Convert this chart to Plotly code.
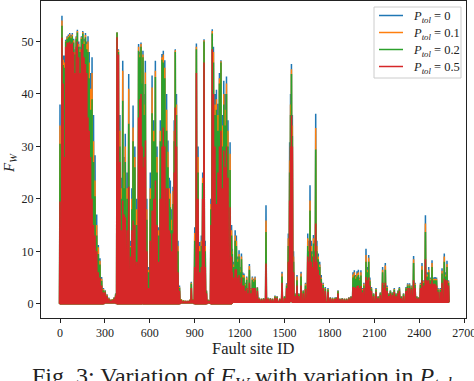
import plotly.graph_objects as go

# ---------------- data ----------------
# Fault-site IDs at which the F_W spikes were read, region by region
SITES = (
    [0, 13, 21, 29, 38, 47, 56, 65, 74, 82, 91, 100, 108, 116, 125, 134, 143, 152, 161, 170,
     179, 187, 195, 204, 214, 224, 234, 245, 256, 267, 278, 290]
    + [302, 314, 326, 338, 350, 362, 372]
    + [381, 390, 400, 410, 419, 428, 436, 448, 459, 472, 480, 488, 500, 512, 525, 533, 541, 548,
       554, 562, 570, 580, 592, 603, 615, 626, 637, 648, 659, 670, 681, 690, 700, 712, 721, 730,
       737, 746, 755, 763, 770, 778, 788, 798]
    + [810, 825, 840, 855, 868, 877, 890]
    + [900, 911, 922, 933, 944, 953, 962, 970, 978]
    + [988, 1000]
    + [1008, 1017, 1025, 1035, 1045, 1055, 1065, 1075, 1085, 1094, 1104, 1112, 1122, 1136, 1146]
    + [1151, 1160, 1170, 1178, 1187, 1196, 1204, 1212, 1220, 1229, 1238, 1247, 1256, 1265, 1275,
       1285, 1294, 1303, 1312, 1318]
    + [1330, 1345, 1360, 1376, 1390, 1405, 1420, 1436, 1450, 1468, 1483, 1500, 1514, 1525, 1534,
       1540, 1546, 1552, 1560, 1570, 1583, 1595, 1610, 1625, 1640]
    + [1655, 1662, 1670, 1678, 1686, 1693, 1700, 1708, 1716, 1725, 1735, 1745, 1758, 1772, 1790,
       1805, 1820, 1835, 1845, 1857, 1870, 1885, 1900, 1915, 1930, 1944]
    + [1957, 1966, 1975, 1984, 1993, 2002, 2010, 2020, 2030, 2044, 2053, 2062, 2070, 2080, 2095,
       2111, 2125, 2140, 2155, 2164, 2173, 2185, 2196, 2207, 2220, 2233, 2245, 2258, 2267, 2280,
       2295, 2311, 2322, 2335, 2348, 2362, 2372, 2383, 2395, 2408, 2418, 2430, 2441, 2452, 2463,
       2474, 2485, 2496, 2505, 2515, 2525, 2540, 2552, 2567, 2576, 2585, 2595]
)

# Peak F_W at each site, P_tol = 0
FW_P0 = (
    [38, 54.9, 47.3, 47.3, 50.3, 51, 51.3, 51.6, 51.2, 51.6, 50.5, 48.5, 51, 52.2, 50, 49, 51, 52,
     50.5, 51.6, 50, 51, 48, 44, 47, 36, 28.3, 17, 11.2, 8.7, 5.1, 3]
    + [2.6, 1.8, 1.2, 0.8, 0.9, 1.3, 2]
    + [51.7, 48.5, 36, 24, 46.3, 28, 32.4, 25, 43.8, 12, 22, 37.8, 30, 20, 49.5, 48, 49.8, 45,
       48.2, 40, 46.3, 20, 7, 25, 43.5, 35, 46.3, 30, 14.6, 35, 47.6, 48.2, 46.4, 40, 31.1, 24,
       23.5, 18, 22.3, 35, 48.5, 40, 12, 3.5]
    + [0.9, 0.7, 0.6, 0.6, 0.8, 4.2, 0.9]
    + [14.6, 49.6, 30, 11.8, 13, 25, 50.4, 12, 2.6]
    + [0.8, 0.7]
    + [20, 52.3, 49, 40, 40.8, 38.1, 44, 46.4, 36, 42.5, 40, 43.3, 35, 30.8, 15]
    + [10.5, 8, 14, 13, 9, 10.2, 7, 9.6, 6, 5.8, 4, 5.2, 3, 7.6, 3, 5.2, 4.8, 5.2, 2, 3.2]
    + [1.2, 1.0, 1.1, 18.8, 1.2, 1.1, 1.0, 1.6, 1.5, 1.0, 6.1, 1.5, 3.9, 13.4, 30.8, 40, 45.7,
       36, 10, 2, 5.5, 2, 6.1, 2.6, 4]
    + [13.4, 12, 22.6, 12, 10, 13.1, 12, 36.2, 12, 9.6, 8, 5.5, 4, 3.2, 3, 1.3, 1.2, 1.2, 1.3,
       2.6, 1.0, 1.1, 1.0, 1.0, 1.3, 1.5]
    + [6, 6.4, 5.5, 6.2, 6.5, 5, 6.4, 3, 4, 10.5, 7, 9.3, 5, 3.2, 2, 3, 1.5, 2.2, 7, 4, 7.8, 3.5,
       2, 2.6, 2.2, 3, 2, 2.6, 3.2, 1.5, 2, 3.2, 3.9, 3.9, 3.5, 9.1, 4, 1.5, 1.3, 4, 7.8, 4.5,
       16.9, 6, 7, 5, 8.3, 5, 5.1, 5, 3, 3, 6.8, 9.6, 6, 8.2, 4.5]
)

# P_tol = 0.1
FW_P01 = (
    [34, 54, 46.5, 46, 50.1, 50.8, 51.1, 51.4, 51, 51.3, 50.2, 48, 50.8, 52, 49.5, 48.5, 50.8,
     51.8, 50, 51.2, 49.5, 50, 46, 41, 44, 31, 23.5, 15, 10.8, 8.2, 4.8, 2.8]
    + [2.5, 1.7, 1.1, 0.8, 0.9, 1.2, 1.9]
    + [51.7, 48.3, 33, 22, 44.4, 25, 30, 22, 41, 11, 20, 33.6, 28, 18, 49, 47.5, 49.5, 44, 47.5,
       38, 44.1, 18, 6.5, 22, 41.2, 33, 44.4, 28, 14, 33, 47, 47.5, 45, 37, 29, 22, 21, 16, 21.5,
       33, 48.3, 38, 11, 3.2]
    + [0.9, 0.7, 0.6, 0.6, 0.8, 4, 0.9]
    + [13.5, 49, 28, 11, 12, 24, 50.2, 11, 2.5]
    + [0.8, 0.7]
    + [19, 52, 48, 38, 39, 36, 43, 46.2, 34, 40, 37, 42, 33, 28.6, 14]
    + [10, 7.5, 13, 12, 8.5, 9.5, 6.5, 9, 5.5, 5.5, 3.8, 5, 2.8, 7.2, 2.8, 5, 4.6, 5, 1.9, 3.1]
    + [1.1, 1.0, 1.0, 15.9, 1.1, 1.0, 1.0, 1.5, 1.4, 1.0, 5.8, 1.4, 3.7, 12.5, 27.3, 38, 44.7,
       34, 9, 1.9, 5.2, 1.9, 5.8, 2.5, 3.8]
    + [12.5, 11, 19.7, 11, 9.5, 12.5, 11, 33.5, 11, 9, 7.5, 5, 3.8, 3, 2.8, 1.2, 1.1, 1.1, 1.2,
       2.5, 1.0, 1.0, 1.0, 1.0, 1.2, 1.4]
    + [5.6, 6, 5.2, 5.8, 6, 4.8, 6, 2.8, 3.8, 9.3, 6.5, 8.8, 4.6, 3, 1.9, 2.8, 1.4, 2.1, 6.5, 3.8,
       7.3, 3.2, 1.9, 2.5, 2.1, 2.8, 1.9, 2.5, 3, 1.4, 1.9, 3, 3.7, 3.7, 3.3, 8.5, 3.8, 1.4, 1.2,
       3.8, 7.2, 4.3, 15.3, 5.6, 6.5, 4.8, 7.8, 4.8, 4.8, 4.8, 2.8, 2.8, 6.3, 9, 5.6, 7.6, 4.3]
)

# P_tol = 0.2
FW_P02 = (
    [30.5, 53, 45.5, 45, 50, 50.5, 50.8, 51, 50.6, 51, 49.8, 47.5, 50.5, 51.7, 49, 48, 50.5,
     51.5, 49.5, 50.8, 48.5, 48, 43, 37, 39, 27, 20.5, 13, 9.5, 7.5, 4.4, 2.6]
    + [2.4, 1.6, 1.0, 0.7, 0.8, 1.1, 1.8]
    + [51.7, 48, 30, 20, 38.7, 22, 27, 20, 34.3, 10.8, 18, 31, 26, 15, 48.2, 47, 49, 42, 47, 36,
       41.9, 16, 6, 20, 36.3, 31, 43.2, 25, 13, 31, 46.5, 46, 43, 33, 26, 20, 18.4, 14, 19, 31,
       48, 36, 10, 3]
    + [0.8, 0.6, 0.5, 0.5, 0.7, 3.8, 0.8]
    + [12, 48.5, 25, 10, 11, 23, 50, 10, 2.4]
    + [0.7, 0.6]
    + [18, 51.5, 46, 36, 37, 33, 42, 46, 30, 38, 34, 40, 30, 25.5, 13]
    + [9.5, 7, 12, 11, 8, 9, 6, 8.5, 5, 5, 3.5, 4.6, 2.6, 6.5, 2.6, 4.6, 4.2, 4.6, 1.8, 3]
    + [1.0, 0.9, 1.0, 13.7, 1.0, 1.0, 0.9, 1.4, 1.3, 0.9, 5.2, 1.3, 3.5, 11, 25, 36, 43.8, 32, 8,
       1.8, 4.5, 1.8, 5.2, 2.4, 3.5]
    + [11, 10, 17.8, 10, 9, 11.5, 10, 29.4, 10, 8.5, 7, 4.8, 3.6, 2.9, 2.7, 1.1, 1.0, 1.0, 1.1,
       2.4, 0.9, 1.0, 0.9, 0.9, 1.1, 1.3]
    + [5, 5.4, 4.8, 5.2, 5.5, 4.5, 5.4, 2.6, 3.5, 8, 6, 8, 4.3, 2.9, 1.8, 2.7, 1.3, 2, 6, 3.6,
       6.5, 3, 1.8, 2.4, 2, 2.7, 1.8, 2.4, 2.9, 1.3, 1.8, 2.9, 3.5, 3.5, 3.1, 7.8, 3.6, 1.3, 1.1,
       3.6, 6.5, 4, 13.7, 5.2, 6, 4.5, 7, 4.5, 4.5, 4.5, 2.7, 2.7, 5.8, 8, 5.2, 7, 4]
)

# P_tol = 0.5
FW_P05 = (
    [19.5, 50.7, 42, 28, 49, 49.8, 49.8, 50, 49.5, 49.8, 48, 44, 49, 50, 47, 44, 48.5, 49.5, 47,
     45.7, 44, 35.5, 33, 28, 20, 15, 13, 10, 6, 5, 3.5, 2.2]
    + [2.2, 1.5, 0.9, 0.6, 0.7, 1.0, 1.6]
    + [50.8, 47.5, 27, 14, 19.7, 17, 16.5, 14, 22.3, 9, 14, 15.9, 15, 8, 35.5, 39, 40, 30, 26, 28,
       31.1, 10, 3, 12, 17.8, 20, 23.5, 15, 8, 20, 30, 33.6, 30, 22, 22, 14, 13.4, 10, 13.4, 25,
       37.4, 30, 6, 2.5]
    + [0.7, 0.5, 0.5, 0.5, 0.6, 3, 0.7]
    + [7, 44, 20, 6, 7, 20, 46, 7, 2]
    + [0.6, 0.5]
    + [15, 48.5, 40, 30, 19, 25, 30, 33, 22, 29.2, 26, 30, 24, 18.4, 9]
    + [6, 5, 6.6, 6.6, 5, 5.5, 4, 5, 3.5, 3.5, 2.5, 3, 2, 4, 2, 3, 3, 3, 1.5, 2.5]
    + [0.9, 0.8, 0.9, 7.7, 0.9, 0.9, 0.8, 1.2, 1.1, 0.8, 4, 1.1, 3, 8, 19.7, 30, 35.9, 30, 6, 1.5,
       3.5, 1.5, 3.5, 2, 2.8]
    + [9, 8, 12.1, 8, 7, 9, 8, 15.3, 8, 6.5, 5.5, 4, 3, 2.5, 2.3, 1.0, 0.9, 0.9, 1.0, 2, 0.8, 0.9,
       0.8, 0.8, 1.0, 1.2]
    + [3.2, 3.2, 3, 3.4, 3.5, 3, 3.4, 2.2, 3, 5.1, 4.5, 5, 3.5, 2.5, 1.5, 2.3, 1.1, 1.7, 4, 3, 4,
       2.5, 1.5, 2, 1.7, 2.3, 1.5, 2, 2.5, 1.1, 1.5, 2.5, 3, 3, 2.8, 4.5, 3, 1.1, 1.0, 3, 4.5,
       3.5, 8.5, 4.5, 4.5, 3.8, 4.5, 3.8, 3.8, 3.5, 2.3, 2.3, 4, 4.8, 4.5, 4.5, 3.5]
)

# Level the curves fall back to between neighbouring spikes, per site
FLOOR = (
    [0] * 32 + [0.2] * 7 + [0] * 44 + [0.2] * 7 + [0] * 9 + [0.2] * 2 + [0] * 15
    + [0.3] * 20 + [0.3] * 25 + [0.3] * 26 + [0.3] * 57
)

LEGEND_LABELS = [
    "<i>P</i><sub><i>tol</i></sub> = 0",
    "<i>P</i><sub><i>tol</i></sub> = 0.1",
    "<i>P</i><sub><i>tol</i></sub> = 0.2",
    "<i>P</i><sub><i>tol</i></sub> = 0.5",
]
COLORS = ["#1f77b4", "#ff7f0e", "#2ca02c", "#d62728"]
X_TICKS = [0, 300, 600, 900, 1200, 1500, 1800, 2100, 2400, 2700]
Y_TICKS = [0, 10, 20, 30, 40, 50]

for arr in (FW_P0, FW_P01, FW_P02, FW_P05, FLOOR):
    assert len(arr) == len(SITES), (len(arr), len(SITES))

HALF = 3  # half width of a spike, in site-ID units


def spike_path(peaks):
    xs, ys = [], []
    for s, p, f in zip(SITES, peaks, FLOOR):
        base = min(f, p)
        xs += [s - HALF, s, s + HALF]
        ys += [base, p, base]
    return xs, ys


FONT = "Liberation Serif"
INK = "#222222"
W, H = 474, 381
ML, MR, MT, MB = 41, 8, 1, 63
PW, PH = W - ML - MR, H - MT - MB


def px(x):  # figure pixel -> paper x
    return (x - ML) / PW


def py(y):  # figure pixel -> paper y
    return (H - MB - y) / PH


fig = go.Figure()
for vals, label, col in zip([FW_P0, FW_P01, FW_P02, FW_P05], LEGEND_LABELS, COLORS):
    xs, ys = spike_path(vals)
    fig.add_trace(go.Scatter(x=xs, y=ys, mode="lines", name=label, showlegend=False,
                             line=dict(color=col, width=1.5, simplify=False)))

# matplotlib-style legend box (drawn in paper coordinates)
shapes = [dict(type="rect", xref="paper", yref="paper", x0=px(374), x1=px(461),
               y0=py(78), y1=py(7), line=dict(color="#cccccc", width=1),
               fillcolor="rgba(255,255,255,0.85)", layer="above")]
annotations = []
ROW_Y = [15.5, 32.5, 49.5, 66.5]
for ry, label, col in zip(ROW_Y, LEGEND_LABELS, COLORS):
    shapes.append(dict(type="line", xref="paper", yref="paper", x0=px(379), x1=px(403),
                       y0=py(ry), y1=py(ry), line=dict(color=col, width=1.5), layer="above"))
    annotations.append(dict(text=label, xref="paper", yref="paper", x=px(411), y=py(ry + 1),
                            xanchor="left", yanchor="middle", showarrow=False,
                            font=dict(family=FONT, size=12.5, color=INK)))

annotations += [
    dict(text="<i>F</i><sub><i>W</i></sub>", xref="paper", yref="paper",
         x=-0.073, y=0.489, xanchor="center", yanchor="middle", textangle=-90,
         showarrow=False, font=dict(family=FONT, size=15, color=INK)),
    dict(text="Fault site ID", xref="paper", yref="paper",
         x=0.501, y=-0.095, xanchor="center", yanchor="middle",
         showarrow=False, font=dict(family=FONT, size=16.5, color=INK)),
    dict(text="Fig. 3: Variation of <i>F</i><sub><i>W</i></sub> with variation in "
              "<i>P</i><sub><i>tol</i></sub>.",
         xref="paper", yref="paper", x=-0.026, y=-0.136, xanchor="left", yanchor="top",
         showarrow=False, font=dict(family=FONT, size=24, color=INK)),
]

axis_common = dict(showline=True, linecolor=INK, linewidth=1, mirror=True,
                   ticks="outside", ticklen=4, tickwidth=1, tickcolor=INK,
                   showgrid=False, zeroline=False, automargin=False,
                   ticklabeloverflow="allow",
                   tickfont=dict(family=FONT, size=12, color=INK))

fig.update_layout(
    width=W, height=H,
    margin=dict(l=ML, r=MR, t=MT, b=MB, autoexpand=False),
    paper_bgcolor="white", plot_bgcolor="white",
    showlegend=False,
    xaxis=dict(range=[-127, 2712], tickvals=X_TICKS, **axis_common),
    yaxis=dict(range=[-2.7, 57.7], tickvals=Y_TICKS, **axis_common),
    shapes=shapes,
    annotations=annotations,
)

fig.write_html("out.html", config={"displayModeBar": False},
               post_script="document.body.style.margin='0';document.body.style.overflow='hidden';")
